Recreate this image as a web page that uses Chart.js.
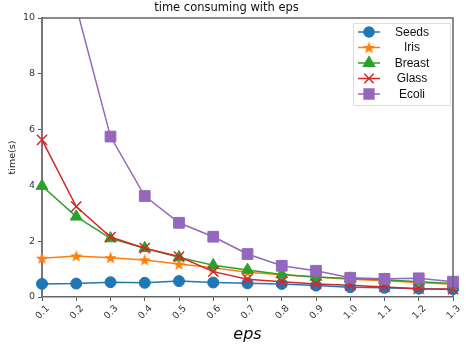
<!DOCTYPE html>
<html>
<head>
<meta charset="utf-8">
<script src="https://cdn.jsdelivr.net/npm/chart.js@4/dist/chart.umd.min.js"></script>
<style>
  html, body { margin: 0; padding: 0; background: #fff; }
  #wrap { width: 474px; height: 348px; }
</style>
</head>
<body>
<div id="wrap"><canvas id="c" width="474" height="348"></canvas></div>
<script>
// eps values on the x axis
const epsLabels = ['0.1', '0.2', '0.3', '0.4', '0.5', '0.6', '0.7', '0.8', '0.9', '1.0', '1.1', '1.2', '1.3'];
const yTicks = [0, 2, 4, 6, 8, 10];

// running time (seconds) per dataset
const seeds  = [0.47, 0.48, 0.53, 0.51, 0.57, 0.52, 0.49, 0.47, 0.41, 0.35, 0.33, 0.30, 0.28];
const iris   = [1.39, 1.47, 1.41, 1.33, 1.18, 1.05, 0.89, 0.80, 0.72, 0.64, 0.58, 0.52, 0.46];
const breast = [3.98, 2.88, 2.10, 1.75, 1.42, 1.14, 0.97, 0.81, 0.72, 0.66, 0.62, 0.55, 0.48];
const glass  = [5.63, 3.24, 2.15, 1.75, 1.45, 0.91, 0.64, 0.55, 0.47, 0.42, 0.36, 0.30, 0.28];
const ecoli  = [22.0, 10.4, 5.75, 3.62, 2.66, 2.16, 1.54, 1.12, 0.94, 0.69, 0.65, 0.67, 0.55];

const seriesNames = ['Seeds', 'Iris', 'Breast', 'Glass', 'Ecoli'];
const seriesData = [seeds, iris, breast, glass, ecoli];
const colors = ['#1f77b4', '#ff7f0e', '#2ca02c', '#d62728', '#9467bd'];

// filled five-point star marker
function makeStar(color, size) {
  const cv = document.createElement('canvas');
  cv.width = size; cv.height = size;
  const g = cv.getContext('2d');
  const cx = size / 2, cy = size / 2 + 0.6, R = size / 2, r = R * 0.42;
  g.beginPath();
  for (let i = 0; i < 10; i++) {
    const rad = (i % 2 === 0) ? R : r;
    const a = -Math.PI / 2 + i * Math.PI / 5;
    const px = cx + rad * Math.cos(a), py = cy + rad * Math.sin(a);
    if (i === 0) g.moveTo(px, py); else g.lineTo(px, py);
  }
  g.closePath();
  g.fillStyle = color;
  g.fill();
  return cv;
}
const starMarker = makeStar(colors[1], 13);

const markers = [
  { pointStyle: 'circle', radius: 5.5 },
  { pointStyle: starMarker, radius: 6.5 },
  { pointStyle: 'triangle', radius: 6.8 },
  { pointStyle: 'crossRot', radius: 7.2 },
  { pointStyle: 'rect', radius: 7.6 }
];

const datasets = seriesNames.map((name, i) => ({
  label: name,
  data: seriesData[i],
  borderColor: colors[i],
  backgroundColor: colors[i],
  borderWidth: 1.5,
  pointStyle: markers[i].pointStyle,
  pointRadius: markers[i].radius,
  pointHoverRadius: markers[i].radius,
  pointBorderWidth: i === 3 ? 1.5 : 1,
  pointBorderColor: colors[i],
  pointBackgroundColor: colors[i],
  tension: 0,
  order: seriesNames.length - i
}));

// frame on the top and right of the plot area, plus the legend box
const framePlugin = {
  id: 'frameAndLegend',
  afterDatasetsDraw(chart) {
    const { ctx, chartArea: a } = chart;
    ctx.save();
    ctx.strokeStyle = '#666';
    ctx.lineWidth = 1.5;
    ctx.beginPath();
    ctx.moveTo(a.left, a.top);
    ctx.lineTo(a.right, a.top);
    ctx.lineTo(a.right, a.bottom);
    ctx.stroke();

    // legend
    const bx = a.right - 100, by = a.top + 5, bw = 97, bh = 82;
    ctx.fillStyle = 'rgba(255,255,255,0.85)';
    ctx.strokeStyle = '#dcdcdc';
    ctx.lineWidth = 1;
    ctx.beginPath();
    ctx.rect(bx + 0.5, by + 0.5, bw, bh);
    ctx.fill();
    ctx.stroke();

    const lx0 = bx + 5, lx1 = bx + 27, mx = bx + 16, tx = bx + 59;
    seriesNames.forEach((name, i) => {
      const y = by + 9 + i * 15.5;
      ctx.strokeStyle = colors[i];
      ctx.fillStyle = colors[i];
      ctx.lineWidth = 1.5;
      ctx.beginPath();
      ctx.moveTo(lx0, y);
      ctx.lineTo(lx1, y);
      ctx.stroke();
      Chart.helpers.drawPoint(ctx, {
        pointStyle: markers[i].pointStyle,
        radius: markers[i].radius * 0.92,
        rotation: 0,
        borderWidth: i === 3 ? 1.5 : 1
      }, mx, y);
      ctx.fillStyle = '#111';
      ctx.font = '12px "Liberation Sans", Arial, sans-serif';
      ctx.textAlign = 'center';
      ctx.textBaseline = 'middle';
      ctx.fillText(name, tx, y + 0.5);
    });
    ctx.restore();
  }
};

new Chart(document.getElementById('c'), {
  type: 'line',
  data: { labels: epsLabels, datasets },
  options: {
    responsive: false,
    animation: false,
    events: [],
    layout: { padding: { left: 0, right: 21, top: 0, bottom: 0 } },
    plugins: {
      legend: { display: false },
      tooltip: { enabled: false },
      title: {
        display: true,
        text: 'time consuming with eps',
        color: '#111',
        font: { family: '"DejaVu Sans", sans-serif', size: 11.5, weight: 'normal', lineHeight: 1.2 },
        padding: { top: 1.5, bottom: 2.7 }
      }
    },
    scales: {
      x: {
        type: 'category',
        offset: false,
        grid: { drawOnChartArea: false, drawTicks: true, tickLength: 4, color: '#555', tickWidth: 1 },
        border: { display: true, color: '#666', width: 1.5 },
        ticks: {
          autoSkip: false,
          minRotation: 45,
          maxRotation: 45,
          labelOffset: 6,
          padding: 2,
          color: '#333',
          font: { family: '"DejaVu Sans", sans-serif', size: 9.5 }
        },
        title: {
          display: true,
          text: 'eps',
          color: '#111',
          font: { family: '"DejaVu Sans", sans-serif', size: 16, style: 'italic' },
          padding: { top: 0, bottom: 4 }
        },
        afterFit(scale) { scale.height = 51; }
      },
      y: {
        min: 0,
        max: 10,
        afterBuildTicks(scale) { scale.ticks = yTicks.map(v => ({ value: v })); },
        grid: { drawOnChartArea: false, drawTicks: true, tickLength: 4, color: '#555', tickWidth: 1 },
        border: { display: true, color: '#777', width: 2 },
        ticks: {
          padding: 3,
          color: '#333',
          font: { family: '"DejaVu Sans", sans-serif', size: 9.5 }
        },
        title: {
          display: true,
          text: 'time(s)',
          color: '#222',
          font: { family: '"DejaVu Sans", sans-serif', size: 9.5 },
          padding: { top: 7, bottom: 0 }
        },
        afterFit(scale) { scale.width = 42; }
      }
    }
  },
  plugins: [framePlugin]
});
</script>
</body>
</html>
